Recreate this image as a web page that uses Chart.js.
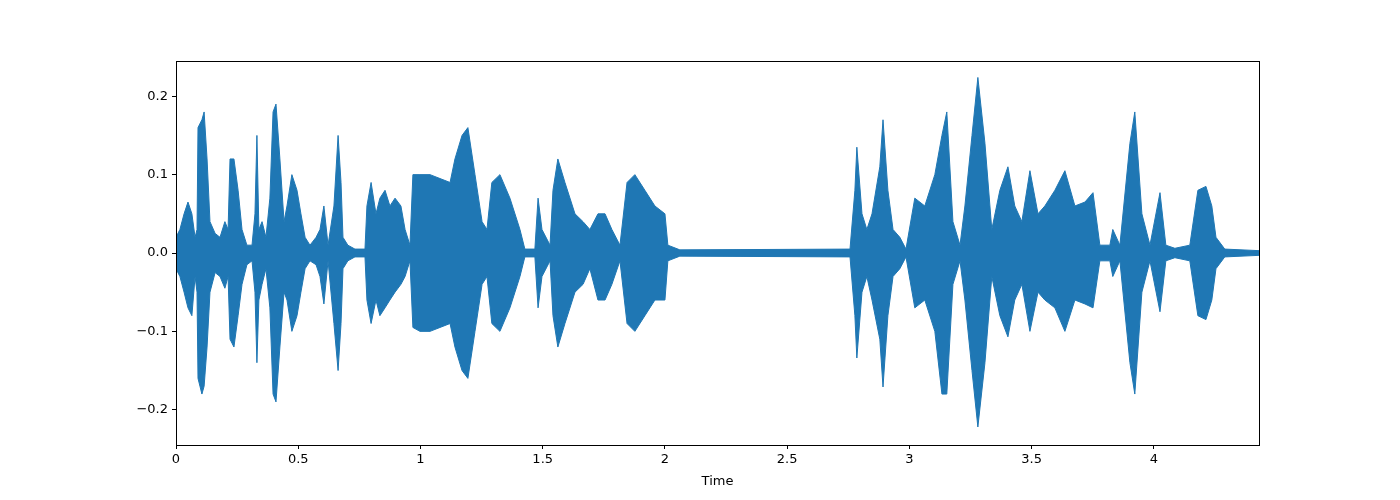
<!DOCTYPE html>
<html><head><meta charset="utf-8">
<script src="https://cdn.jsdelivr.net/npm/chart.js@4/dist/chart.umd.min.js"></script>
<style>html,body{margin:0;padding:0;background:#fff}#w{width:1400px;height:500px}</style>
</head><body><div id="w"><canvas id="c"></canvas></div>
<script>
const times = [0.000,0.016,0.033,0.049,0.065,0.078,0.086,0.090,0.106,0.115,0.127,0.139,0.160,0.180,0.200,0.213,0.221,0.237,0.254,0.270,0.290,0.311,0.323,0.331,0.339,0.352,0.368,0.384,0.397,0.409,0.425,0.442,0.454,0.474,0.495,0.511,0.528,0.548,0.573,0.589,0.605,0.622,0.646,0.663,0.675,0.683,0.703,0.732,0.773,0.781,0.798,0.818,0.834,0.855,0.875,0.896,0.920,0.937,0.957,0.969,0.998,1.039,1.080,1.121,1.141,1.170,1.194,1.223,1.252,1.272,1.292,1.325,1.366,1.407,1.427,1.468,1.481,1.497,1.530,1.542,1.562,1.591,1.632,1.665,1.693,1.726,1.755,1.783,1.816,1.845,1.877,1.918,1.959,2.000,2.012,2.061,2.757,2.777,2.785,2.806,2.826,2.847,2.879,2.892,2.912,2.933,2.961,2.986,3.022,3.063,3.104,3.133,3.153,3.178,3.207,3.227,3.256,3.280,3.309,3.337,3.370,3.403,3.431,3.460,3.493,3.526,3.554,3.595,3.636,3.677,3.718,3.751,3.779,3.820,3.832,3.861,3.902,3.922,3.951,3.984,4.025,4.049,4.086,4.147,4.180,4.213,4.237,4.254,4.290,4.430];
const upper = [0.02,0.03,0.05,0.065,0.05,0.02,0.03,0.16,0.17,0.18,0.12,0.04,0.025,0.02,0.04,0.03,0.12,0.12,0.08,0.03,0.01,0.01,0.05,0.15,0.03,0.04,0.02,0.07,0.18,0.19,0.12,0.04,0.06,0.10,0.08,0.05,0.02,0.01,0.02,0.03,0.06,0.01,0.06,0.15,0.09,0.02,0.01,0.005,0.005,0.06,0.09,0.05,0.07,0.08,0.06,0.07,0.06,0.03,0.01,0.10,0.10,0.10,0.095,0.09,0.12,0.15,0.16,0.10,0.04,0.03,0.09,0.10,0.07,0.03,0.005,0.005,0.07,0.03,0.01,0.08,0.12,0.09,0.05,0.04,0.03,0.05,0.05,0.03,0.01,0.09,0.10,0.08,0.06,0.05,0.01,0.004,0.005,0.08,0.135,0.05,0.03,0.05,0.11,0.17,0.08,0.03,0.02,0.005,0.07,0.06,0.10,0.15,0.18,0.04,0.01,0.06,0.15,0.224,0.14,0.03,0.08,0.11,0.06,0.04,0.105,0.05,0.06,0.08,0.105,0.06,0.065,0.077,0.01,0.01,0.03,0.01,0.14,0.18,0.05,0.01,0.077,0.01,0.006,0.01,0.08,0.085,0.06,0.02,0.005,0.003];
const lower = [-0.02,-0.03,-0.05,-0.07,-0.08,-0.03,-0.05,-0.16,-0.18,-0.17,-0.12,-0.05,-0.025,-0.03,-0.045,-0.03,-0.11,-0.12,-0.08,-0.04,-0.015,-0.01,-0.05,-0.14,-0.06,-0.04,-0.02,-0.07,-0.18,-0.19,-0.12,-0.05,-0.06,-0.10,-0.08,-0.05,-0.02,-0.01,-0.015,-0.03,-0.065,-0.01,-0.09,-0.15,-0.09,-0.02,-0.01,-0.005,-0.005,-0.06,-0.09,-0.06,-0.08,-0.07,-0.06,-0.05,-0.04,-0.03,-0.01,-0.095,-0.10,-0.10,-0.095,-0.09,-0.12,-0.15,-0.16,-0.10,-0.04,-0.03,-0.09,-0.10,-0.07,-0.03,-0.005,-0.005,-0.07,-0.03,-0.01,-0.08,-0.12,-0.09,-0.05,-0.04,-0.02,-0.06,-0.06,-0.04,-0.01,-0.09,-0.10,-0.08,-0.06,-0.06,-0.01,-0.004,-0.005,-0.08,-0.134,-0.05,-0.03,-0.06,-0.11,-0.171,-0.08,-0.03,-0.02,-0.005,-0.07,-0.06,-0.10,-0.18,-0.18,-0.04,-0.01,-0.06,-0.15,-0.222,-0.14,-0.03,-0.08,-0.107,-0.06,-0.04,-0.10,-0.05,-0.06,-0.07,-0.10,-0.06,-0.065,-0.07,-0.01,-0.01,-0.03,-0.01,-0.14,-0.18,-0.05,-0.01,-0.075,-0.01,-0.006,-0.01,-0.08,-0.085,-0.06,-0.02,-0.005,-0.003];
const xTicks = [0,0.5,1,1.5,2,2.5,3,3.5,4];
const yTicks = [-0.2,-0.1,0,0.1,0.2];
const xTitle = 'Time';

const col = '#1f77b4';
const pts = a => a.map((v,i)=>({x:times[i],y:v}));
const frame = {id:'frame',afterDraw(ch){const a=ch.chartArea,c=ch.ctx;c.save();c.strokeStyle='#000';c.lineWidth=1;c.strokeRect(Math.round(a.left)+0.5,Math.round(a.top)+0.5,Math.round(a.right-a.left),Math.round(a.bottom-a.top));c.restore();}};
const fmt = v => (v<0?'\u2212':'')+Math.abs(v).toFixed(1);
const f = {family:'DejaVu Sans',size:13};
new Chart(document.getElementById('c'),{
  type:'line',
  data:{datasets:[
    {data:pts(upper),borderColor:col,backgroundColor:col,borderWidth:1,pointRadius:0,fill:'+1',tension:0},
    {data:pts(lower),borderColor:col,backgroundColor:col,borderWidth:1,pointRadius:0,fill:false,tension:0}
  ]},
  options:{responsive:true,maintainAspectRatio:false,animation:false,
    layout:{padding:{left:0,right:141,top:61,bottom:11}},
    plugins:{legend:{display:false},tooltip:{enabled:false}},
    scales:{
      x:{type:'linear',min:0,max:4.43,
        afterBuildTicks:s=>{s.ticks=xTicks.map(v=>({value:v}));},
        afterFit:s=>{s.height=44;},
        grid:{drawOnChartArea:false,drawTicks:true,tickLength:4,color:'#000'},border:{color:'#000'},
        ticks:{color:'#000',font:f,padding:3,maxRotation:0,callback:v=>String(v)},
        title:{display:true,text:xTitle,color:'#000',font:f,padding:{top:0,bottom:0}}},
      y:{min:-0.245,max:0.245,
        afterBuildTicks:s=>{s.ticks=yTicks.map(v=>({value:v}));},
        afterFit:s=>{s.width=176;},
        grid:{drawOnChartArea:false,drawTicks:true,tickLength:4,color:'#000'},border:{color:'#000'},
        ticks:{color:'#000',font:f,padding:4,callback:v=>fmt(v)}}
    }},
  plugins:[frame]
});
</script></body></html>
